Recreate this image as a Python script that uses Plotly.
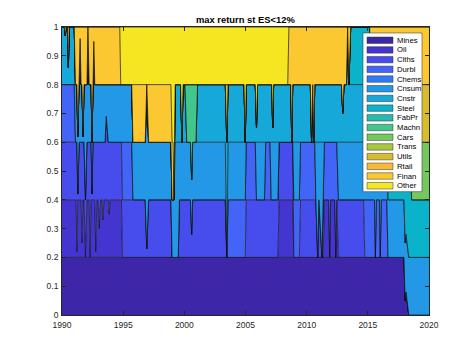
import plotly.graph_objects as go

industries = ["Mines", "Oil", "Clths", "Durbl", "Chems", "Cnsum", "Cnstr", "Steel",
              "FabPr", "Machn", "Cars", "Trans", "Utils", "Rtail", "Finan", "Other"]
colors = ["#3e26a8", "#4434d0", "#474cec", "#4264f7", "#307af6", "#2298e6", "#16a8d8", "#0ab2ca",
          "#23bcb0", "#42c68c", "#73c85f", "#aac63c", "#d7bc30", "#faba38", "#fbc832", "#f6e622"]

# portfolio holdings at key dates (each name = 0.2 weight, "Name:w" = explicit weight)
dates = [
    1990.00, 1990.20, 1990.27, 1990.34, 1990.45, 1990.52, 1990.59, 1991.00, 1991.10, 1991.15,
    1991.22, 1991.29, 1991.40, 1991.48, 1991.56, 1991.63, 1991.72, 1991.80, 1991.92, 1992.04,
    1992.12, 1992.22, 1992.30, 1992.38, 1992.45, 1992.53, 1992.60, 1992.68, 1992.76, 1992.85,
    1992.95, 1993.05, 1993.15, 1993.27, 1993.35, 1993.43, 1993.52, 1993.62, 1993.72, 1993.78,
    1993.86, 1993.94, 1994.72, 1994.80, 1994.86, 1994.94, 1995.70, 1995.80, 1996.80, 1996.93,
    1997.08, 1998.90, 1999.00, 1999.08, 1999.15, 1999.25, 1999.50, 1999.60, 1999.70, 1999.80,
    1999.90, 2000.05, 2000.20, 2000.50, 2000.60, 2000.68, 2000.95, 2001.08, 2003.35, 2003.47,
    2003.58, 2004.88, 2004.98, 2005.06, 2005.80, 2005.90, 2005.98, 2006.55, 2006.65, 2007.00,
    2007.10, 2007.15, 2007.22, 2007.30, 2007.65, 2007.75, 2008.45, 2008.55, 2008.70, 2008.78,
    2008.86, 2008.95, 2009.40, 2009.50, 2010.30, 2010.40, 2010.50, 2010.58, 2010.66, 2010.75,
    2010.90, 2011.00, 2011.25, 2011.35, 2011.45, 2011.80, 2011.88, 2011.96, 2012.30, 2012.38,
    2012.46, 2012.60, 2012.85, 2012.95, 2013.05, 2013.25, 2013.35, 2013.45, 2013.60, 2014.65,
    2014.75, 2015.15, 2015.25, 2015.55, 2015.62, 2015.70, 2015.95, 2016.02, 2016.10, 2016.55,
    2016.65, 2017.95, 2018.05, 2018.12, 2018.35, 2018.45, 2018.58, 2020.00,
]
holdings = [
    "Mines Oil Clths Durbl Cnstr", "Mines Oil Clths Durbl Cnstr",
    "Mines Oil Clths Durbl Cnstr:0.17 Other:0.03", "Mines Oil Clths Durbl Cnstr",
    "Mines Oil Clths Durbl Cnstr", "Mines Oil Clths Durbl Cnstr:0.06 Finan:0.14",
    "Mines Oil Clths Durbl Cnstr", "Mines Oil Clths Durbl Cnstr",
    "Mines Oil Clths Cnsum Finan", "Mines Oil Clths Cnsum Finan",
    "Mines Oil:0.02 Clths:0.38 Cnsum Finan", "Mines Oil Clths:0.02 Cnsum:0.2 Finan:0.38",
    "Mines Oil Clths Cnsum Finan", "Mines Oil Clths Cnsum:0.36 Finan:0.04",
    "Mines Oil Clths Cnsum Finan", "Mines Oil:0.05 Clths:0.35 Cnsum Finan",
    "Mines Oil Clths Cnsum:0.02 Finan:0.38", "Mines Oil Clths Cnsum Finan",
    "Mines Clths Cnsum Cnsum Finan", "Mines Oil Clths Cnsum Finan",
    "Mines Oil Clths Cnsum Cnsum", "Mines Oil Clths Cnsum Finan",
    "Mines Clths Clths Cnsum Finan", "Mines Oil Clths Cnsum Finan",
    "Mines Oil Clths:0.02 Cnsum:0.18 Finan:0.4", "Mines Oil Clths Cnsum Finan",
    "Mines Oil Clths Cnsum:0.35 Finan:0.05", "Mines Oil Clths Cnsum Finan",
    "Mines Oil:0.02 Clths:0.38 Cnsum Finan", "Mines Oil Clths Cnsum Finan",
    "Mines Oil Clths Cnsum Finan", "Mines Oil:0.1 Clths:0.3 Cnsum Finan",
    "Mines Oil Clths Cnsum Finan", "Mines Oil Clths Cnsum Finan",
    "Mines Oil:0.13 Clths:0.27 Cnsum Finan", "Mines Oil Clths Cnsum Finan",
    "Mines Oil Clths Cnsum Finan", "Mines Oil Clths:0.29 Cnsum:0.11 Finan",
    "Mines Oil Clths Cnsum Finan", "Mines Oil Clths Cnsum Finan",
    "Mines Oil:0.15 Clths:0.25 Cnsum Finan", "Mines Oil Clths Cnsum Finan",
    "Mines Oil Clths Cnsum Finan", "Mines Oil Clths Cnsum Other",
    "Mines Oil Clths Cnsum Other", "Mines Clths Durbl Cnsum Other",
    "Mines Clths Durbl Cnsum Other", "Mines Clths Cnsum Finan Other",
    "Mines Clths Cnsum Finan Other", "Mines Clths:0.03 Cnsum:0.57 Other",
    "Mines Clths Cnsum Finan Other", "Mines Clths Cnsum Finan Other",
    "Mines Cnsum Finan Other Other", "Mines Cnsum Finan Other Other",
    "Mines Cnsum Other Other Other", "Mines Cnsum Cnsum Cnstr Other",
    "Mines Cnsum Cnsum Cnstr Other", "Mines Clths Cnsum Cnstr Other",
    "Mines Clths Cnsum Cnstr Other", "Mines Clths Cnsum Other Other",
    "Mines Clths Cnsum Cnstr Other", "Mines Clths Cnsum Cnstr Other",
    "Mines Clths Cnsum Machn Other", "Mines Clths Cnsum Machn Other",
    "Mines Clths:0.08 Cnsum:0.19 Machn:0.33 Other", "Mines Clths Cnsum Machn Other",
    "Mines Clths Cnsum Machn Other", "Mines Clths Cnsum Cnstr Other",
    "Mines Clths Cnsum Cnstr Other", "Mines Cnstr Cnstr Utils Other",
    "Mines Durbl Cnsum Cnstr Other", "Mines Durbl Cnsum Cnstr Other",
    "Mines Durbl Cnsum Other Other", "Mines Clths Durbl Cnstr Other",
    "Mines Clths Durbl Cnstr Other", "Mines Clths Cnsum Cnstr:0.05 Other:0.35",
    "Mines Clths Cnsum Cnstr Other", "Mines Clths Cnsum Cnstr Other",
    "Mines Clths Durbl Cnstr Other", "Mines Clths Durbl Cnstr Other",
    "Mines Clths Cnsum Cnstr Other", "Mines Clths Cnsum Cnstr Other",
    "Mines Clths Cnsum Cnstr:0.05 Other:0.35", "Mines Clths Cnsum Cnstr Other",
    "Mines Clths Cnsum Cnstr Other", "Mines Oil Clths Cnstr Other",
    "Mines Oil Clths Cnstr Other", "Mines Oil Clths Cnstr Finan",
    "Mines Oil Clths Cnstr Finan", "Mines Oil Clths Finan Finan",
    "Mines Oil Clths Cnstr Finan", "Mines Durbl Cnsum Cnstr Finan",
    "Mines Durbl Cnsum Cnstr Finan", "Mines Clths Durbl Cnstr Finan",
    "Mines Clths Durbl Cnstr Finan", "Mines Clths Durbl Finan Finan",
    "Mines Clths Durbl Cnstr Finan", "Mines Clths Durbl Finan Finan",
    "Mines Clths Durbl Cnstr Finan", "Mines Clths Cnsum Cnstr Finan",
    "Mines Cnsum Cnsum Cnstr Finan", "Mines Clths Cnsum Cnstr Finan",
    "Mines Cnsum Cnsum Cnstr Finan", "Mines Clths Cnsum Cnstr Finan",
    "Mines Oil Durbl Cnstr Finan", "Mines Oil Durbl Cnstr Finan",
    "Mines Durbl Durbl Cnstr Finan", "Mines Oil Durbl Cnstr Finan",
    "Mines Oil Durbl Cnstr Finan", "Mines Durbl Durbl Cnstr Finan",
    "Mines Oil Durbl Cnstr Finan", "Mines Clths Cnsum Cnstr Finan",
    "Mines Clths Cnsum Cnstr Finan", "Mines Clths Cnsum Cnstr:0.1 Finan:0.3",
    "Mines Clths Cnsum Cnstr Finan", "Mines Clths Cnsum Cnstr Finan",
    "Mines Clths Cnsum Cnstr Cnstr", "Mines Clths Cnsum Cnstr Finan",
    "Mines Clths Cnsum Cnstr Steel", "Mines Clths Cnsum Cnstr Steel",
    "Mines Durbl Cnsum Cnstr Steel", "Mines Durbl Cnsum Cnstr Steel",
    "Mines Durbl Cnsum Cnstr Finan", "Mines Durbl Cnsum Cnstr Finan",
    "Mines Cnsum Cnsum Cnstr Finan", "Mines Durbl Cnsum Cnstr Finan",
    "Mines Durbl Cnsum Cnstr Finan", "Mines Cnsum Cnsum Cnstr Finan",
    "Mines Durbl Cnsum Cnstr Finan", "Mines Durbl Cnsum Cnstr Finan",
    "Mines Cnsum Steel Utils Finan", "Mines Cnsum Steel Utils Finan",
    "Mines:0.05 Cnsum Steel:0.35 Utils Finan", "Mines:0.08 Cnsum Steel:0.32 Utils Finan",
    "Cnsum Steel Steel Utils Finan", "Cnsum Steel Steel Utils Finan",
    "Cnsum Steel Cars Utils Finan", "Cnsum Steel Cars Utils Finan",
]

x_ticks = [1990, 1995, 2000, 2005, 2010, 2015, 2020]
title_text = "max return st ES&lt;12%"


def weights_of(name):
    out = []
    for h in holdings:
        w = 0.0
        for tok in h.split():
            if ":" in tok:
                n, v = tok.split(":")
                if n == name:
                    w += float(v)
            elif tok == name:
                w += 0.2
        out.append(round(w, 4))
    return out


fig = go.Figure()
for name, col in zip(industries, colors):
    fig.add_trace(go.Scatter(
        x=dates, y=weights_of(name), name=name, stackgroup="one", mode="lines",
        line=dict(color="#111111", width=0.7), fillcolor=col, showlegend=False,
        hoverinfo="skip"))

axis_col = "#262626"
font_fam = "Liberation Sans, Arial, Helvetica, sans-serif"
common = dict(showgrid=False, zeroline=False, showline=True, linecolor=axis_col, linewidth=0.7,
              mirror="allticks", ticks="inside", ticklen=4, tickwidth=0.6, tickcolor=axis_col,
              tickfont=dict(family=font_fam, size=8.5, color=axis_col))
fig.update_xaxes(range=[1990, 2020], tickvals=x_ticks, ticklabelstandoff=2, **common)
fig.update_yaxes(range=[0, 1], dtick=0.1, tick0=0, ticklabelstandoff=1, **common)

# manual legend (MATLAB-style compact box)
shapes = [dict(type="rect", xref="paper", yref="paper", x0=0.8202, x1=0.9809, y0=0.4283, y1=0.9792,
               fillcolor="white", line=dict(color=axis_col, width=0.5), layer="above")]
annotations = []
for i, (name, col) in enumerate(zip(industries, colors)):
    yc = 0.954 - i * 0.03367
    shapes.append(dict(type="rect", xref="paper", yref="paper", x0=0.8311, x1=0.9019,
                       y0=yc - 0.0112, y1=yc + 0.0112, fillcolor=col,
                       line=dict(color="#333333", width=0.5), layer="above"))
    annotations.append(dict(text=name, xref="paper", yref="paper", x=0.906, y=yc,
                            xanchor="left", yanchor="middle", showarrow=False,
                            font=dict(family=font_fam, size=7.7, color="black")))
annotations.append(dict(text="<b>" + title_text + "</b>", xref="paper", yref="paper", x=0.5, y=1,
                        xanchor="center", yanchor="bottom", yshift=0, showarrow=False,
                        font=dict(family=font_fam, size=9.4, color="black")))

# page body has an 8px margin, so the figure is offset; margins compensate
fig.update_layout(width=466, height=347, margin=dict(l=54, r=45, t=19, b=40),
                  paper_bgcolor="white", plot_bgcolor="white", showlegend=False,
                  shapes=shapes, annotations=annotations)
fig.write_html("out.html")
